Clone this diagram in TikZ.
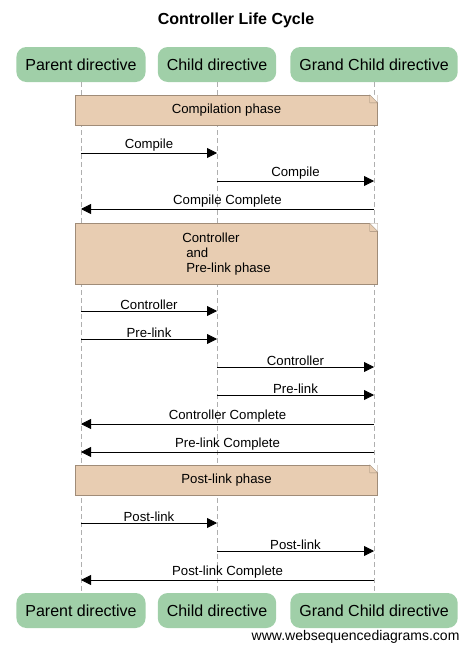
\documentclass[tikz,border=0pt]{standalone}
\usepackage{fontspec}
\setmainfont{Liberation Sans}
\usepackage{tikz}
\usetikzlibrary{arrows.meta, positioning}

\definecolor{actorgreen}{RGB}{160,207,168}
\definecolor{notetan}{RGB}{232,205,178}
\definecolor{noteline}{RGB}{160,140,120}
\definecolor{lifegray}{RGB}{175,175,175}

\tikzset{
  actor/.style={fill=actorgreen, rounded corners=10pt, minimum height=35pt,
    inner xsep=9pt, font=\fontsize{16}{18}\selectfont},
  note/.style={fill=notetan, draw=noteline, minimum width=302pt,
    font=\fontsize{13.2}{15}\selectfont},
  msg/.style={-{Triangle[length=10pt,width=10pt]}, line width=0.8pt},
  msglabel/.style={midway, above=0pt, inner sep=1pt, font=\fontsize{13.2}{15}\selectfont},
  lifeline/.style={lifegray, dash pattern=on 5pt off 3pt, line width=0.6pt}
}

\begin{document}
\begin{tikzpicture}[x=1pt, y=-1pt]
  \useasboundingbox (0,0) rectangle (472,653);

  %Define nodes
  \node[font=\bfseries\fontsize{16}{18}\selectfont] (title) at (236,20) {Controller Life Cycle};
  \node[actor] (parent) at (81,64.5) {Parent directive};
  \node[actor] (child) at (217,64.5) {Child directive};
  \node[actor] (grand) at (374,64.5) {Grand Child directive};
  \node[actor] (parent_b) at (81,610.5) {Parent directive};
  \node[actor] (child_b) at (217,610.5) {Child directive};
  \node[actor] (grand_b) at (374,610.5) {Grand Child directive};
  \node[font=\fontsize{14}{16}\selectfont, anchor=east] (site) at (463,637) {www.websequencediagrams.com};

  % Lifelines
  \draw[lifeline] (parent.south) -- (parent_b.north);
  \draw[lifeline] (child.south) -- (child_b.north);
  \draw[lifeline] (grand.south) -- (grand_b.north);

  % Notes
  \node[note, minimum height=30pt] (compile_note) at (226.5,110) {Compilation phase};
  \node[note, minimum height=61pt, align=left] (pre_note) at (226.5,254)
    {Controller\\\hspace{4pt}and\\\hspace{4pt}Pre-link phase};
  \node[note, minimum height=30pt] (post_note) at (226.5,480) {Post-link phase};
  \foreach \n in {compile_note, pre_note, post_note}{
    \fill[white] (\n.north east) ++(-8,0) -- (\n.north east) -- ++(0,8) -- cycle;
    \draw[noteline] (\n.north east) ++(-8,0) -- ++(8,8) -- ++(-8,0) -- cycle;
  }

  % Connect the nodes
  \draw[msg] (parent |- 0,153) -- (child |- 0,153) node[msglabel] {Compile};
  \draw[msg] (child |- 0,181) -- (grand |- 0,181) node[msglabel] {Compile};
  \draw[msg] (grand |- 0,209) -- (parent |- 0,209) node[msglabel] {Compile Complete};

  \draw[msg] (parent |- 0,311) -- (child |- 0,311) node[msglabel] {Controller};
  \draw[msg] (parent |- 0,339) -- (child |- 0,339) node[msglabel] {Pre-link};
  \draw[msg] (child |- 0,367) -- (grand |- 0,367) node[msglabel] {Controller};
  \draw[msg] (child |- 0,395) -- (grand |- 0,395) node[msglabel] {Pre-link};
  \draw[msg] (grand |- 0,424) -- (parent |- 0,424) node[msglabel] {Controller Complete};
  \draw[msg] (grand |- 0,452) -- (parent |- 0,452) node[msglabel] {Pre-link Complete};

  \draw[msg] (parent |- 0,523) -- (child |- 0,523) node[msglabel] {Post-link};
  \draw[msg] (child |- 0,551) -- (grand |- 0,551) node[msglabel] {Post-link};
  \draw[msg] (grand |- 0,580) -- (parent |- 0,580) node[msglabel] {Post-link Complete};

\end{tikzpicture}
\end{document}
